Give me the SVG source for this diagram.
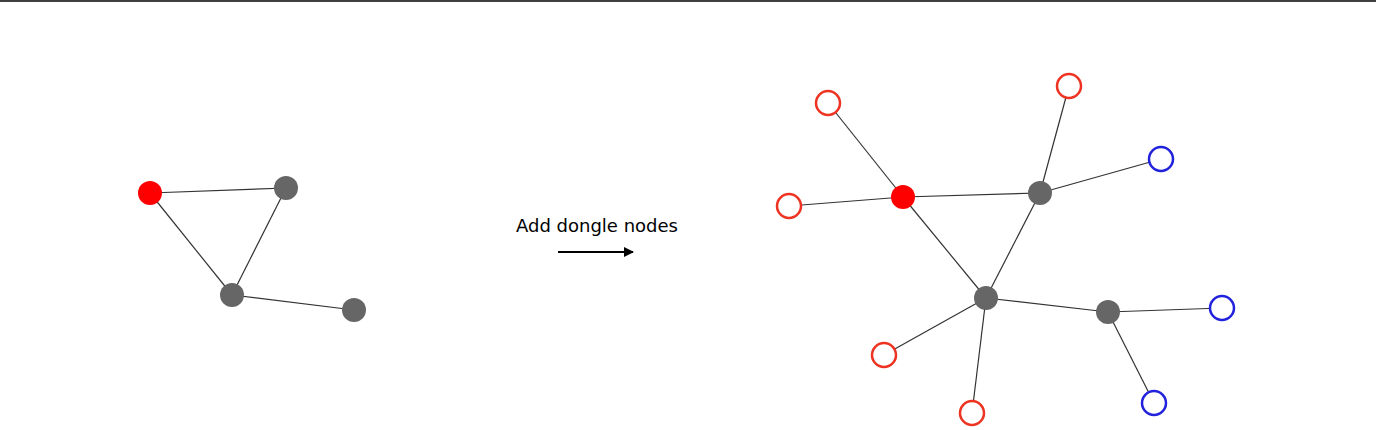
<svg xmlns="http://www.w3.org/2000/svg" width="1376" height="430" viewBox="0 0 1376 430">
<style>
.e{stroke:#333;stroke-width:1.2}
.g{fill:#666}
.r{fill:#ff0000}
.or{fill:#fff;stroke:#ee3322;stroke-width:2.5}
.ob{fill:#fff;stroke:#2222dd;stroke-width:2.5}
text{font-family:"DejaVu Sans",Verdana,sans-serif;font-size:18px;fill:#000}
</style>
<defs><marker id="ah" markerWidth="10" markerHeight="10" refX="9" refY="5" orient="auto" markerUnits="userSpaceOnUse"><path d="M0,0 L10,5 L0,10 Z" fill="#000"/></marker></defs>
<rect width="1376" height="430" fill="#fff"/>
<line x1="0" y1="1" x2="1376" y2="1" stroke="#000" stroke-width="1.5"/>
<g id="connectors">
<line class="e" x1="150" y1="193" x2="286" y2="188"/>
<line class="e" x1="150" y1="193" x2="232" y2="295"/>
<line class="e" x1="286" y1="188" x2="232" y2="295"/>
<line class="e" x1="232" y1="295" x2="354" y2="310"/>
<line class="e" x1="903" y1="197" x2="1040" y2="193"/>
<line class="e" x1="903" y1="197" x2="986" y2="298"/>
<line class="e" x1="1040" y1="193" x2="986" y2="298"/>
<line class="e" x1="986" y1="298" x2="1108" y2="312"/>
<line class="e" x1="903" y1="197" x2="828" y2="103"/>
<line class="e" x1="903" y1="197" x2="789" y2="206"/>
<line class="e" x1="1040" y1="193" x2="1069" y2="86"/>
<line class="e" x1="1040" y1="193" x2="1161" y2="159"/>
<line class="e" x1="986" y1="298" x2="884" y2="355"/>
<line class="e" x1="986" y1="298" x2="972" y2="413"/>
<line class="e" x1="1108" y1="312" x2="1222" y2="308"/>
<line class="e" x1="1108" y1="312" x2="1154" y2="403"/>
<line x1="558" y1="252" x2="633" y2="252" stroke="#000" stroke-width="2" marker-end="url(#ah)"/>
</g>
<text x="597" y="232" text-anchor="middle">Add dongle nodes</text>
<g id="l_red"><circle class="r" cx="150" cy="193" r="12"/></g>
<g id="l_g1"><circle class="g" cx="286" cy="188" r="12"/></g>
<g id="l_g2"><circle class="g" cx="232" cy="295" r="12"/></g>
<g id="l_g3"><circle class="g" cx="354" cy="310" r="12"/></g>
<g id="r_red"><circle class="r" cx="903" cy="197" r="12"/></g>
<g id="r_a"><circle class="g" cx="1040" cy="193" r="12"/></g>
<g id="r_b"><circle class="g" cx="986" cy="298" r="12"/></g>
<g id="r_c"><circle class="g" cx="1108" cy="312" r="12"/></g>
<g id="d1"><circle class="or" cx="828" cy="103" r="12"/></g>
<g id="d2"><circle class="or" cx="789" cy="206" r="12"/></g>
<g id="d3"><circle class="or" cx="1069" cy="86" r="12"/></g>
<g id="d4"><circle class="ob" cx="1161" cy="159" r="12"/></g>
<g id="d5"><circle class="or" cx="884" cy="355" r="12"/></g>
<g id="d6"><circle class="or" cx="972" cy="413" r="12"/></g>
<g id="d7"><circle class="ob" cx="1222" cy="308" r="12"/></g>
<g id="d8"><circle class="ob" cx="1154" cy="403" r="12"/></g>
</svg>
